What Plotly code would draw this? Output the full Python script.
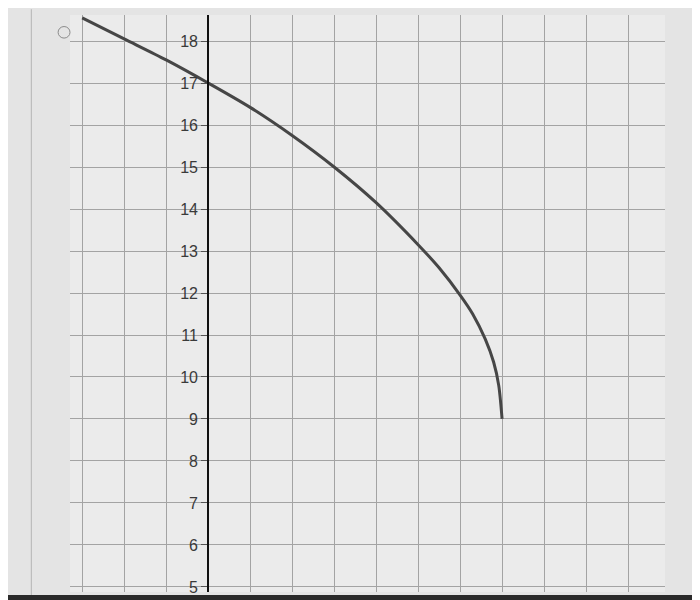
import plotly.graph_objects as go

# points (ends at x=7, y=9)
curve_x = [-3.0, -2.0, -1.0, 0.0, 1.0, 2.0, 3.0, 4.0, 5.0, 5.5, 6.0, 6.3, 6.6, 6.8, 6.92, 7.0]
curve_y = [18.55, 18.05, 17.55, 17.0, 16.42, 15.75, 15.0, 14.15, 13.15, 12.6, 11.95, 11.5, 10.9, 10.35, 9.8, 9.0]

y_ticks = list(range(5, 19))
x_grid = list(range(-3, 11))

x_range = [-3.29, 10.88]
y_range = [4.88, 18.62]

fig = go.Figure()

fig.add_trace(go.Scatter(
    x=curve_x, y=curve_y, mode='lines',
    line=dict(color='#464646', width=3, shape='spline', smoothing=0.8),
    hoverinfo='skip', showlegend=False
))

fig.update_layout(
    width=700, height=600,
    margin=dict(l=62, r=43, t=7, b=16),
    paper_bgcolor='#e4e4e4',
    plot_bgcolor='#ebebeb',
    showlegend=False,
    font=dict(family='Liberation Sans, Arial', color='#333333'),
)

fig.update_xaxes(
    range=x_range,
    tickvals=x_grid,
    showticklabels=False,
    showgrid=True, gridcolor='#a3a3a3', gridwidth=1,
    zeroline=False, showline=False,
)

fig.update_yaxes(
    range=y_range,
    tickvals=y_ticks,
    ticktext=[str(v) for v in y_ticks],
    tickfont=dict(size=16, color='#3a3a3a'),
    ticks='outside', ticklen=6, tickcolor='#555555',
    showgrid=True, gridcolor='#a3a3a3', gridwidth=1,
    zeroline=False,
    showline=True, linecolor='#111111', linewidth=2,
    anchor='free', position=(0 - x_range[0]) / (x_range[1] - x_range[0]),
)

# page bits around the graph in the photo
fig.add_shape(type='circle', xref='paper', yref='paper',
              x0=-0.02, x1=0.0, y0=0.96, y1=0.98,
              line=dict(color='#8a8a8a', width=1))
fig.add_shape(type='line', xref='paper', yref='paper',
              x0=-0.065, x1=-0.065, y0=-0.01, y1=1.01,
              line=dict(color='#b5b5b5', width=1))
fig.add_shape(type='rect', xref='paper', yref='paper',
              x0=-0.2, x1=1.1, y0=-0.03, y1=-0.005,
              fillcolor='#2a2a2a', line=dict(width=0))

fig.write_html("out.html")
